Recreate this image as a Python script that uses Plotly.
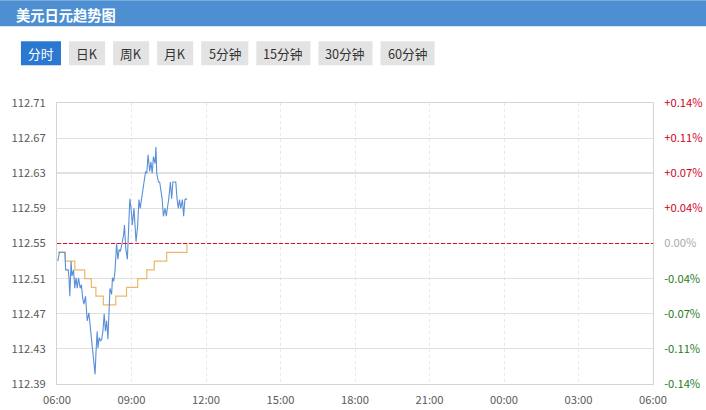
import plotly.graph_objects as go

# ---------------- data ----------------
title_text = "美元日元趋势图"
button_labels = ["分时", "日K", "周K", "月K", "5分钟", "15分钟", "30分钟", "60分钟"]

day0 = "2017-06-01 "
day1 = "2017-06-02 "

price_times = ["06:02", "06:06", "06:19", "06:21", "06:27", "06:29", "06:31", "06:34", "06:36", "06:40",
               "06:43", "06:46", "06:49", "06:52", "06:56", "06:59", "07:02", "07:05", "07:09", "07:12",
               "07:13", "07:17", "07:20", "07:23", "07:26", "07:30", "07:32", "07:34", "07:37", "07:39",
               "07:42", "07:45", "07:48", "07:51", "07:54", "07:57", "08:00", "08:03", "08:05", "08:08",
               "08:12", "08:14", "08:17", "08:20", "08:24", "08:27", "08:30", "08:33", "08:37", "08:41",
               "08:43", "08:46", "08:50", "08:53", "08:56", "08:59", "09:02", "09:06", "09:08", "09:11",
               "09:15", "09:18", "09:21", "09:24", "09:27", "09:31", "09:34", "09:37", "09:40", "09:44",
               "09:47", "09:50", "09:53", "09:57", "09:59", "10:01", "10:05", "10:08", "10:11", "10:14",
               "10:17", "10:21", "10:24", "10:27", "10:30", "10:34", "10:37", "10:40", "10:43", "10:47",
               "10:50", "10:53", "10:56", "10:59", "11:03", "11:06", "11:09", "11:12", "11:14"]
price_values = [112.530, 112.540, 112.540, 112.520, 112.520, 112.511, 112.490, 112.530, 112.513, 112.520,
                112.499, 112.511, 112.499, 112.511, 112.499, 112.503, 112.488, 112.481, 112.490, 112.471,
                112.462, 112.471, 112.458, 112.441, 112.430, 112.413, 112.401, 112.424, 112.450, 112.431,
                112.443, 112.439, 112.441, 112.450, 112.470, 112.450, 112.462, 112.441, 112.477, 112.499,
                112.492, 112.511, 112.507, 112.518, 112.550, 112.532, 112.543, 112.541, 112.550, 112.560,
                112.571, 112.545, 112.532, 112.560, 112.601, 112.590, 112.571, 112.590, 112.567, 112.552,
                112.571, 112.600, 112.590, 112.600, 112.613, 112.622, 112.632, 112.630, 112.651, 112.632,
                112.643, 112.630, 112.649, 112.641, 112.660, 112.630, 112.620, 112.620, 112.609, 112.601,
                112.581, 112.590, 112.581, 112.590, 112.601, 112.620, 112.601, 112.620, 112.620, 112.620,
                112.601, 112.590, 112.600, 112.590, 112.600, 112.581, 112.600, 112.601, 112.600]

avg_times = ["06:02", "06:20", "06:43", "07:07", "07:23", "07:34", "07:52", "08:22", "08:48", "09:15",
             "09:37", "09:55", "10:25", "11:13", "11:14"]
avg_values = [112.54, 112.53, 112.52, 112.51, 112.50, 112.49, 112.48, 112.49, 112.50, 112.51,
              112.52, 112.53, 112.54, 112.54, 112.55]

prev_close = 112.55
y_ticks = [112.39, 112.43, 112.47, 112.51, 112.55, 112.59, 112.63, 112.67, 112.71]
y_tick_text = ["112.39", "112.43", "112.47", "112.51", "112.55", "112.59", "112.63", "112.67", "112.71"]
pct_text = ["-0.14%", "-0.11%", "-0.07%", "-0.04%", "0.00%", "+0.04%", "+0.07%", "+0.11%", "+0.14%"]
x_start = day0 + "06:00"
x_end = day1 + "06:00"

# ---------------- layout helpers ----------------
# target pixel positions (as in the picture); the rendered page appears
# slightly scaled, so work in a compensated coordinate system.
SX, SY = 0.9873, 0.9785
W, H = round(706 / SX), round(410 / SY)
PL, PR, PT, PB = 56, 651, 101, 383           # plot box in picture pixels
ML = PL / SX
MR = W - PR / SX
MT = PT / SY
MB = H - PB / SY
PW, PH = W - ML - MR, H - MT - MB


def px_x(px):
    return (px / SX - ML) / PW


def px_y(py):
    return (H - MB - py / SY) / PH


def fs(v):
    return v / ((SX + SY) / 2)


def pct_color(t):
    if t.startswith("+"):
        return "#d0021b"
    if t.startswith("-"):
        return "#1e7b1e"
    return "#aaaaaa"


fig = go.Figure()

fig.add_trace(go.Scatter(
    x=[day0 + t for t in avg_times], y=avg_values, mode="lines",
    line=dict(color="#eab868", width=1.2, shape="hv"), hoverinfo="skip", showlegend=False))

fig.add_trace(go.Scatter(
    x=[day0 + t for t in price_times], y=price_values, mode="lines",
    line=dict(color="#5a8fd8", width=1.1), hoverinfo="skip", showlegend=False))

# previous close reference line (drawn as a trace so it stays red on top)
fig.add_trace(go.Scatter(
    x=[x_start, x_end], y=[prev_close, prev_close], mode="lines",
    line=dict(color="#e0102a", width=1.2, dash="4px,2px"), hoverinfo="skip", showlegend=False))

# invisible trace for right axis
fig.add_trace(go.Scatter(
    x=[x_start, x_end], y=[y_ticks[0], y_ticks[-1]], yaxis="y2", mode="lines",
    line=dict(color="rgba(0,0,0,0)"), hoverinfo="skip", showlegend=False))

shapes = []
# header bar
shapes.append(dict(type="rect", xref="paper", yref="paper",
                   x0=px_x(-2), x1=px_x(720), y0=px_y(24), y1=px_y(-2),
                   fillcolor="#4d8fd1", line=dict(width=0), layer="below"))

# buttons
btn_x = [(20, 60), (68, 104), (112, 148), (156, 192), (200, 247), (255, 309), (317, 371), (379, 433)]
annotations = []
for i, (lab, (a, b)) in enumerate(zip(button_labels, btn_x)):
    active = i == 0
    shapes.append(dict(type="rect", xref="paper", yref="paper",
                       x0=px_x(a), x1=px_x(b), y0=px_y(63), y1=px_y(39),
                       fillcolor="#2b78d0" if active else "#e3e3e3",
                       line=dict(width=0), layer="below"))
    annotations.append(dict(text=lab, xref="paper", yref="paper",
                            x=px_x((a + b) / 2), y=px_y(51), xanchor="center", yanchor="middle",
                            showarrow=False,
                            font=dict(family="Noto Sans CJK SC", size=fs(12.5),
                                      color="#ffffff" if active else "#333333")))

annotations.append(dict(text="<b>" + title_text + "</b>", xref="paper", yref="paper",
                        x=px_x(13), y=px_y(12), xanchor="left", yanchor="middle", showarrow=False,
                        font=dict(family="Noto Sans CJK SC", size=fs(14), color="#ffffff")))

# darker gridline
shapes.append(dict(type="line", xref="paper", yref="y", x0=0, x1=1, y0=112.63, y1=112.63,
                   line=dict(color="#c8c8c8", width=1.6), layer="below"))

tick_font = dict(family="Noto Sans CJK SC", size=fs(11), color="#5a5a5a")

fig.update_layout(
    width=W, height=H,
    margin=dict(l=ML, r=MR, t=MT, b=MB, pad=0),
    paper_bgcolor="#ffffff", plot_bgcolor="#ffffff",
    shapes=shapes, annotations=annotations,
    hovermode=False,
    xaxis=dict(type="date", range=[x_start, x_end], dtick=3 * 3600 * 1000, tick0=x_start,
               tickformat="%H:%M", showgrid=True, gridcolor="#e8e8e8", griddash="dot", gridwidth=1,
               showline=True, linecolor="#d4d4d4", linewidth=1, mirror=True,
               ticks="", tickfont=tick_font, ticklabelstandoff=6, zeroline=False, fixedrange=True),
    yaxis=dict(range=[y_ticks[0], y_ticks[-1]], tickvals=y_ticks, ticktext=y_tick_text,
               showgrid=True, gridcolor="#e0e0e0", gridwidth=1,
               showline=True, linecolor="#d4d4d4", linewidth=1,
               ticks="", tickfont=tick_font, ticklabelstandoff=8, zeroline=False, fixedrange=True),
    yaxis2=dict(range=[y_ticks[0], y_ticks[-1]], tickvals=y_ticks,
                ticktext=['<span style="color:%s">%s</span>' % (pct_color(t), t) for t in pct_text],
                overlaying="y", side="right", showgrid=False,
                showline=True, linecolor="#d4d4d4", linewidth=1,
                ticks="", tickfont=dict(family="Noto Sans CJK SC", size=fs(11)), ticklabelstandoff=8,
                zeroline=False, fixedrange=True),
)

fig.write_html("out.html", config={"displayModeBar": False},
               post_script="document.body.style.margin='0';document.body.style.overflow='hidden';")
